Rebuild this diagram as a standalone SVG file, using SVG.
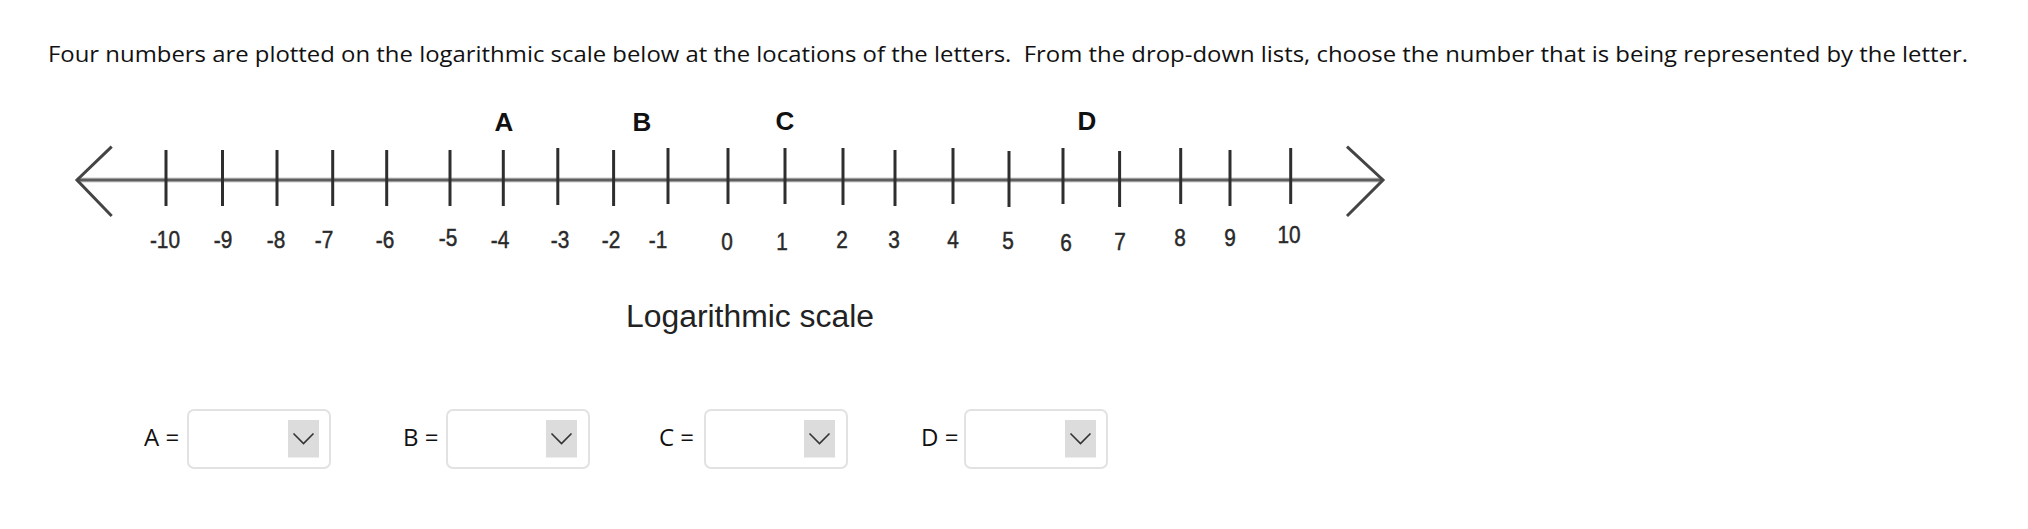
<svg xmlns="http://www.w3.org/2000/svg" width="2028" height="529" viewBox="0 0 2028 529">
<style>
.title{font-family:"Open Sans","Noto Sans",sans-serif;font-size:22.5px;fill:#111;white-space:pre}
.num{font-family:"Liberation Sans",Arial,sans-serif;font-size:24.5px;fill:#2a2a2a;stroke:#2a2a2a;stroke-width:0.5;text-anchor:middle}
.let{font-family:"Liberation Sans",Arial,sans-serif;font-size:26px;font-weight:bold;fill:#111;text-anchor:middle}
.cap{font-family:"Liberation Sans",Arial,sans-serif;font-size:31px;fill:#222}
.tick{stroke:#2e2e2e;stroke-width:3}
.lbl{font-family:"Open Sans","Noto Sans",sans-serif;font-size:24px;fill:#111}
.box{fill:#fff;stroke:#e2e2e2;stroke-width:2}
.btn{fill:#dcdcdc}
.chev{fill:none;stroke:#333;stroke-width:1.6}
</style>
<rect width="2028" height="529" fill="#fff"/>
<g id="title">
<text class="title" xml:space="preserve" x="48" y="62" textLength="1920" lengthAdjust="spacingAndGlyphs">Four numbers are plotted on the logarithmic scale below at the locations of the letters.  From the drop-down lists, choose the number that is being represented by the letter.</text>
</g>
<g id="number-line">
<line x1="77" y1="180" x2="1383" y2="180" stroke="#9a9a9a" stroke-width="4.5"/>
<line x1="77" y1="180" x2="1383" y2="180" stroke="#4a4a4a" stroke-width="1.6"/>
<polyline points="111.7,146.7 77,180 111.7,216" fill="none" stroke="#444" stroke-width="3"/>
<polyline points="1347,146.7 1383,180 1347,216" fill="none" stroke="#444" stroke-width="3"/>
<g id="ticks">
<line class="tick" x1="166" y1="150" x2="166" y2="206"/>
<line class="tick" x1="222.5" y1="150" x2="222.5" y2="206"/>
<line class="tick" x1="277" y1="150" x2="277" y2="206"/>
<line class="tick" x1="332.7" y1="150" x2="332.7" y2="206"/>
<line class="tick" x1="386.7" y1="150" x2="386.7" y2="206"/>
<line class="tick" x1="450" y1="150" x2="450" y2="206"/>
<line class="tick" x1="503.3" y1="150" x2="503.3" y2="206"/>
<line class="tick" x1="557.8" y1="148" x2="557.8" y2="205"/>
<line class="tick" x1="613.6" y1="150" x2="613.6" y2="206"/>
<line class="tick" x1="668" y1="148" x2="668" y2="204"/>
<line class="tick" x1="728" y1="148" x2="728" y2="204"/>
<line class="tick" x1="785" y1="148" x2="785" y2="204"/>
<line class="tick" x1="843" y1="148" x2="843" y2="205"/>
<line class="tick" x1="895" y1="150" x2="895" y2="206"/>
<line class="tick" x1="953" y1="148" x2="953" y2="204"/>
<line class="tick" x1="1009" y1="151" x2="1009" y2="207"/>
<line class="tick" x1="1063" y1="148" x2="1063" y2="204"/>
<line class="tick" x1="1119.6" y1="151" x2="1119.6" y2="207"/>
<line class="tick" x1="1180.7" y1="148" x2="1180.7" y2="204"/>
<line class="tick" x1="1230" y1="150" x2="1230" y2="206"/>
<line class="tick" x1="1290.7" y1="148" x2="1290.7" y2="204"/>
</g>
<g id="tick-labels" transform="scale(0.85 1)">
<text class="num" x="194.1" y="248">-10</text>
<text class="num" x="262.4" y="248">-9</text>
<text class="num" x="324.7" y="248">-8</text>
<text class="num" x="381.2" y="248">-7</text>
<text class="num" x="452.9" y="248">-6</text>
<text class="num" x="527.1" y="246">-5</text>
<text class="num" x="588.2" y="248">-4</text>
<text class="num" x="658.8" y="248">-3</text>
<text class="num" x="718.8" y="248">-2</text>
<text class="num" x="774.1" y="248">-1</text>
<text class="num" x="855.3" y="250">0</text>
<text class="num" x="920" y="250">1</text>
<text class="num" x="990.6" y="248">2</text>
<text class="num" x="1051.8" y="248">3</text>
<text class="num" x="1121.2" y="248">4</text>
<text class="num" x="1185.9" y="249">5</text>
<text class="num" x="1254.1" y="251">6</text>
<text class="num" x="1317.6" y="250">7</text>
<text class="num" x="1388.2" y="246">8</text>
<text class="num" x="1447.1" y="246">9</text>
<text class="num" x="1516.5" y="243">10</text>
</g>
<g id="letters">
<text class="let" x="504" y="131">A</text>
<text class="let" x="642" y="131">B</text>
<text class="let" x="785" y="130">C</text>
<text class="let" x="1087" y="130">D</text>
</g>
<text class="cap" x="626" y="327" textLength="248" lengthAdjust="spacingAndGlyphs">Logarithmic scale</text>
</g>
<g id="dropdown-A">
<text class="lbl" x="144" y="446">A =</text>
<rect class="box" x="188" y="410" width="142" height="58" rx="6"/>
<rect class="btn" x="288" y="420" width="31" height="37.5"/>
<polyline class="chev" points="293.5,433.5 303.5,443.5 313.5,433.5"/>
</g>
<g id="dropdown-B">
<text class="lbl" x="403" y="446">B =</text>
<rect class="box" x="447" y="410" width="142" height="58" rx="6"/>
<rect class="btn" x="546" y="420" width="31" height="37.5"/>
<polyline class="chev" points="551.5,433.5 561.5,443.5 571.5,433.5"/>
</g>
<g id="dropdown-C">
<text class="lbl" x="659" y="446">C =</text>
<rect class="box" x="705" y="410" width="142" height="58" rx="6"/>
<rect class="btn" x="804" y="420" width="31" height="37.5"/>
<polyline class="chev" points="809.5,433.5 819.5,443.5 829.5,433.5"/>
</g>
<g id="dropdown-D">
<text class="lbl" x="921" y="446">D =</text>
<rect class="box" x="965" y="410" width="142" height="58" rx="6"/>
<rect class="btn" x="1065" y="420" width="31" height="37.5"/>
<polyline class="chev" points="1070.5,433.5 1080.5,443.5 1090.5,433.5"/>
</g>
</svg>
